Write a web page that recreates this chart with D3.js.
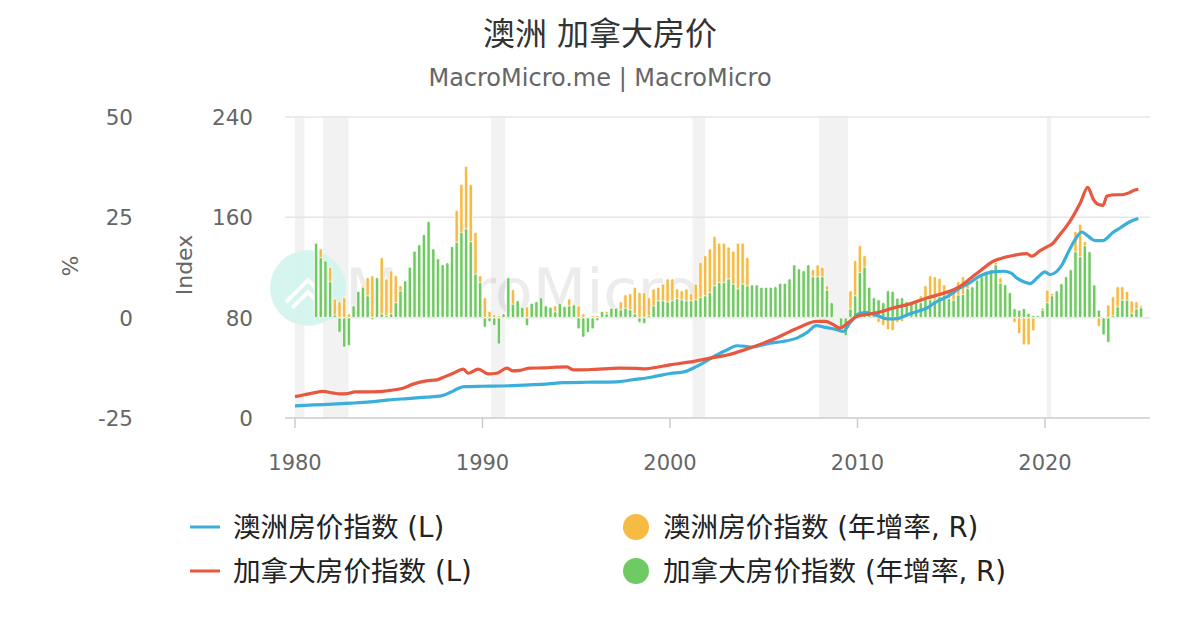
<!DOCTYPE html>
<html><head><meta charset="utf-8">
<script src="https://cdn.jsdelivr.net/npm/d3@7/dist/d3.min.js"></script>
<style>
body{margin:0;background:#fff;}
text{font-family:"DejaVu Sans","Noto Sans CJK SC",sans-serif;}
</style></head>
<body><svg id="c" width="1200" height="630"></svg>
<script>
// ---- data ----
const barStart = 1981; // first quarter = 1981Q1
const auGrowth = [
16,17.2,13,12.6, 4.7,4,5,1, 0.5,3,8,10, 10.5,9,15,9.7, 11.7,10.5,8,6,
8,10,10,12, 10,8,8,10, 12,14,26.75,33.25, 37.75,33.25,21.3,10.5, 5,1.6,0.8,0.5,
0,2,7,3, 2,2.75,2,2, 3,2.3,2.75,3, 3,3,4.7,3, 3,1,0,0.5,
0.5,1,1.6,1.6, 2.5,4,5.75,6, 7.6,6.3,6.3,5, 7.2,7.6,8.4,9.7, 9.7,7.2,6.75,7.2,
6,8.4,13.8,15.5, 17.2,20.25,18.6,18.6, 17.6,16.6,18.6,18.6, 15,6,3,1, 0.5,1,1.5,2,
3,5,8,9, 10,11,12,13.2, 12.6,8,2,0, -2,-1,6.75,14.25, 18,15.5,7,4,
-1.2,-2,-3,-3.25, -1.2,-1,0.5,1.5, 3,5.5,8,10.5, 10.25,9.8,8.2,6.5, 6.5,9,10.25,8.2,
6,7,8,10, 11,13.8,10,7, 3,-1.2,-4,-6.8, -6.8,-3.3,0,2.5, 6.9,6.1,4,3,
6,12,21.5,23.3, 19,12,4,-2.25, -4,3.2,5.25,7.75, 7.75,6.6,4.2,4, 3];
const caGrowth = [
18.6,15,14.2,9, 0.7,-3.7,-7.4,-7, 3,6.6,7.6,5.5, -0.5,10,1,0.5, 1,3.8,6.7,9.2,
12.6,16.6,18.2,20.75, 24,17.2,14.7,13.25, 13.7,17.75,18.8,21.3, 22.2,19,10.9,8.8, -2.4,-1,-2,-6.6,
1,10,3.4,4.25, 2.6,-2,3.6,4, 5,3,2.6,1.5, 3.6,2.8,3,3.25, -2.8,-4.9,-3.7,-2.8,
-0.75,1.6,1,2.4, 2.4,2,2.4,2, 1,-1.2,-1.5,0.5, 3,4.25,4.25,4, 4.25,4.8,4.5,4.25,
4.25,4.5,5.1,5.5, 6.3,8,8.8,8.8, 9.7,8.4,7.2,8.4, 8,8.2,8.2,7.6, 7.6,7.6,7.75,8.6,
8.6,9.7,13.2,12.2, 11.75,13.2,10.25,10.25, 10.25,6.9,3.8,0, -2.4,-4.5,2.2,5.5, 11.3,12.6,7.6,5,
4.5,3.8,6.75,6.6, 4.9,5,4,3.8, 3.8,3.8,4.7,4.5, 4.4,5.25,5.7,4.8, 4.4,5.7,5.8,7.3,
7.75,9.4,10.25,11.5, 12,13.2,8.6,8.25, 6.3,2.3,1.9,2.3, 1.1,0.5,0.5,1.9, 3.8,5.5,6.7,8.5,
10.25,12,16.5,15.25, 18,16.5,8.2,1.9, -4.3,-6.2,0.5,2.75, 4.4,4.4,1.1,2.2, 2.5];

const auIndex = [[1980,9.6],[1981,10.4],[1982,11],[1983,11.8],[1984,12.8],[1985,14.4],[1986,15.5],[1987,16.6],[1987.8,17.6],[1988.3,20.5],[1988.7,23.5],[1989,25],[1990,25.3],[1991,25.5],[1991.6,25.8],[1992.5,26.4],[1993.5,27.2],[1994.3,28.2],[1995.5,28.5],[1996.5,28.6],[1997.3,29],[1998,30.5],[1999,32.5],[2000,35.5],[2000.8,37],[2001.4,41],[2002,46],[2002.5,50.4],[2003,54],[2003.56,57.6],[2004,57.2],[2004.27,56.5],[2005.33,59.7],[2006,61],[2006.76,63.7],[2007.3,68],[2007.8,73.6],[2008.2,72.5],[2008.9,70.4],[2009.24,69],[2009.6,76],[2010.1,83.2],[2010.5,84],[2011,82],[2011.6,79],[2012.2,79.5],[2012.67,82.4],[2013.2,85],[2013.7,87.7],[2014.1,91.7],[2014.8,97],[2015.47,103.7],[2016,108],[2016.5,113],[2017.2,116.5],[2017.8,117],[2018.2,115.5],[2018.49,111.7],[2018.9,108.5],[2019.2,107.2],[2019.6,112],[2020,116.5],[2020.27,114.4],[2020.6,116.5],[2020.9,122],[2021.3,134],[2021.6,142],[2021.96,148.3],[2022.3,145],[2022.67,141.5],[2023.1,141.5],[2023.6,147.7],[2024,151.5],[2024.5,156.3],[2024.98,159]];
const caIndex = [[1980,17],[1980.5,18.5],[1981,20],[1981.5,21.2],[1982,20],[1982.4,19.2],[1982.8,19.5],[1983.2,20.8],[1983.64,20.8],[1984.5,21],[1985.07,22],[1985.7,23.5],[1986.3,27],[1987,29.6],[1987.56,30.4],[1988,33],[1988.44,35.7],[1988.98,39],[1989.24,35.7],[1989.78,39],[1990.3,35.2],[1990.76,35.7],[1991.3,39.7],[1991.64,37.6],[1992,38],[1992.53,39.7],[1993.3,40],[1993.96,40.5],[1994.5,40.8],[1994.84,38.4],[1995.2,38.4],[1996,38.8],[1997.3,39.7],[1998.2,39.5],[1998.7,39.2],[1999.3,40.5],[2000,42.4],[2001,44.5],[2002.13,47.7],[2003,50],[2003.56,52.3],[2004.3,56],[2004.98,59.7],[2005.7,64],[2006.4,69],[2007,73],[2007.8,77],[2008.3,77],[2008.7,74.5],[2009.07,71.7],[2009.5,76],[2009.96,81],[2010.5,82.5],[2011.2,84.5],[2011.9,87.7],[2012.8,91],[2013.7,95.7],[2014.5,99],[2015.47,105],[2016,111],[2016.6,118],[2017.24,125],[2017.6,127],[2018.3,129.6],[2019.02,131],[2019.3,129],[2019.7,133],[2020.1,136.5],[2020.4,139],[2020.8,146.4],[2021.2,154],[2021.5,161],[2021.9,172],[2022.28,184],[2022.58,174.4],[2022.9,170],[2023.1,169.6],[2023.3,177],[2023.8,178],[2024.1,178],[2024.5,179.7],[2024.75,181.5],[2024.98,182.4]];

const recessions = [[1980.0,1980.5],[1981.5,1982.85],[1990.45,1991.2],[2001.2,2001.87],[2007.95,2009.5],[2020.1,2020.33]];
const xTicks = [1980,1990,2000,2010,2020];
const pctTicks = [-25,0,25,50];
const idxTicks = [0,80,160,240];
const title = "澳洲 加拿大房价";
const subtitle = "MacroMicro.me | MacroMicro";
const legendItems = [
  {name:"澳洲房价指数 (L)", type:"line", color:"#3BAFDA"},
  {name:"加拿大房价指数 (L)", type:"line", color:"#E9573F"},
  {name:"澳洲房价指数 (年增率, R)", type:"dot", color:"#F6BB42"},
  {name:"加拿大房价指数 (年增率, R)", type:"dot", color:"#70CA63"}
];

// ---- chart ----
const svg = d3.select("#c");
const L = 295, R = 1150, T = 117, B = 418;
const x = d3.scaleLinear().domain([1980, 2025.6]).range([L, R]);
const yP = d3.scaleLinear().domain([-25, 50]).range([B, T]);
const yI = d3.scaleLinear().domain([0, 240]).range([B, T]);

svg.append("text").attr("x",600).attr("y",45).attr("text-anchor","middle")
  .attr("font-size",32).attr("fill","#333").text(title);
svg.append("text").attr("x",600).attr("y",86).attr("text-anchor","middle")
  .attr("font-size",24).attr("fill","#666").text(subtitle);

// recession bands
svg.append("g").selectAll("rect").data(recessions).join("rect")
  .attr("x",d=>x(d[0])).attr("width",d=>x(d[1])-x(d[0]))
  .attr("y",T).attr("height",B-T).attr("fill","#f2f2f2");

// grid
svg.append("g").selectAll("line").data(idxTicks.slice(1)).join("line")
  .attr("x1",285).attr("x2",R).attr("y1",d=>yI(d)).attr("y2",d=>yI(d))
  .attr("stroke","#e6e6e6").attr("stroke-width",1.5);

// watermark
const wm = svg.append("g").attr("opacity",0.9);
wm.append("circle").attr("cx",308).attr("cy",288).attr("r",38).attr("fill","#d3f5ee");
wm.append("path").attr("d","M286,302 L308,280 L330,302 M292,308 L308,292 L324,308")
  .attr("stroke","#fff").attr("stroke-width",4).attr("fill","none");
svg.append("text").attr("x",345).attr("y",313).attr("font-size",62).attr("fill","#000").attr("opacity",0.07)
  .text("MacroMicro");

// axes labels
const axG = svg.append("g");
axG.selectAll(".pl").data(pctTicks).join("text").attr("x",133).attr("y",d=>yP(d)+8)
  .attr("text-anchor","end").attr("font-size",21.5).attr("fill","#666").text(d=>d);
axG.selectAll(".il").data(idxTicks).join("text").attr("class","il").attr("x",253).attr("y",d=>yI(d)+8)
  .attr("text-anchor","end").attr("font-size",21.5).attr("fill","#666").text(d=>d);
axG.append("text").attr("transform","translate(78,266) rotate(-90)").attr("text-anchor","middle")
  .attr("font-size",22).attr("fill","#666").text("%");
axG.append("text").attr("transform","translate(192,265) rotate(-90)").attr("text-anchor","middle")
  .attr("font-size",22).attr("fill","#666").text("Index");

// x axis
svg.append("line").attr("x1",285).attr("x2",R).attr("y1",B).attr("y2",B).attr("stroke","#ccc").attr("stroke-width",1.5);
svg.append("g").selectAll("line").data(xTicks).join("line")
  .attr("x1",d=>x(d)).attr("x2",d=>x(d)).attr("y1",B).attr("y2",B+10).attr("stroke","#ccc").attr("stroke-width",1.5);
axG.selectAll(".xl").data(xTicks).join("text").attr("x",d=>x(d)).attr("y",470)
  .attr("text-anchor","middle").attr("font-size",21).attr("fill","#666").text(d=>d);

// bars
function qDate(i){ return barStart + i*0.25 + 0.125; }
const bw = 3.4;
function drawBars(data, color){
  svg.append("g").selectAll("rect").data(data).join("rect")
    .attr("x",(d,i)=>x(qDate(i))-bw/2).attr("width",bw)
    .attr("y",d=>Math.min(yP(d),yP(0))).attr("height",d=>Math.max(0.5,Math.abs(yP(d)-yP(0))))
    .attr("rx",1.6).attr("fill",color).attr("stroke","#fff").attr("stroke-width",0.8);
}
drawBars(auGrowth,"#F6BB42");
drawBars(caGrowth,"#70CA63");

// lines
const line = d3.line().x(d=>x(d[0])).y(d=>yI(d[1])).curve(d3.curveMonotoneX);
svg.append("path").datum(auIndex).attr("d",line).attr("fill","none").attr("stroke","#3BAFDA").attr("stroke-width",3.2);
svg.append("path").datum(caIndex).attr("d",line).attr("fill","none").attr("stroke","#E9573F").attr("stroke-width",3.2);

// legend
const lg = svg.append("g");
const pos = [[190,527],[190,571],[636,527],[636,571]];
legendItems.forEach((it,i)=>{
  const [px,py] = pos[i];
  if(it.type==="line"){
    lg.append("line").attr("x1",px).attr("x2",px+30).attr("y1",py).attr("y2",py).attr("stroke",it.color).attr("stroke-width",3);
    lg.append("text").attr("x",px+43).attr("y",py+10).attr("font-size",27.6).attr("fill","#222").text(it.name);
  } else {
    lg.append("circle").attr("cx",px).attr("cy",py).attr("r",13).attr("fill",it.color);
    lg.append("text").attr("x",px+27).attr("y",py+10).attr("font-size",27.6).attr("fill","#222").text(it.name);
  }
});
</script></body></html>
